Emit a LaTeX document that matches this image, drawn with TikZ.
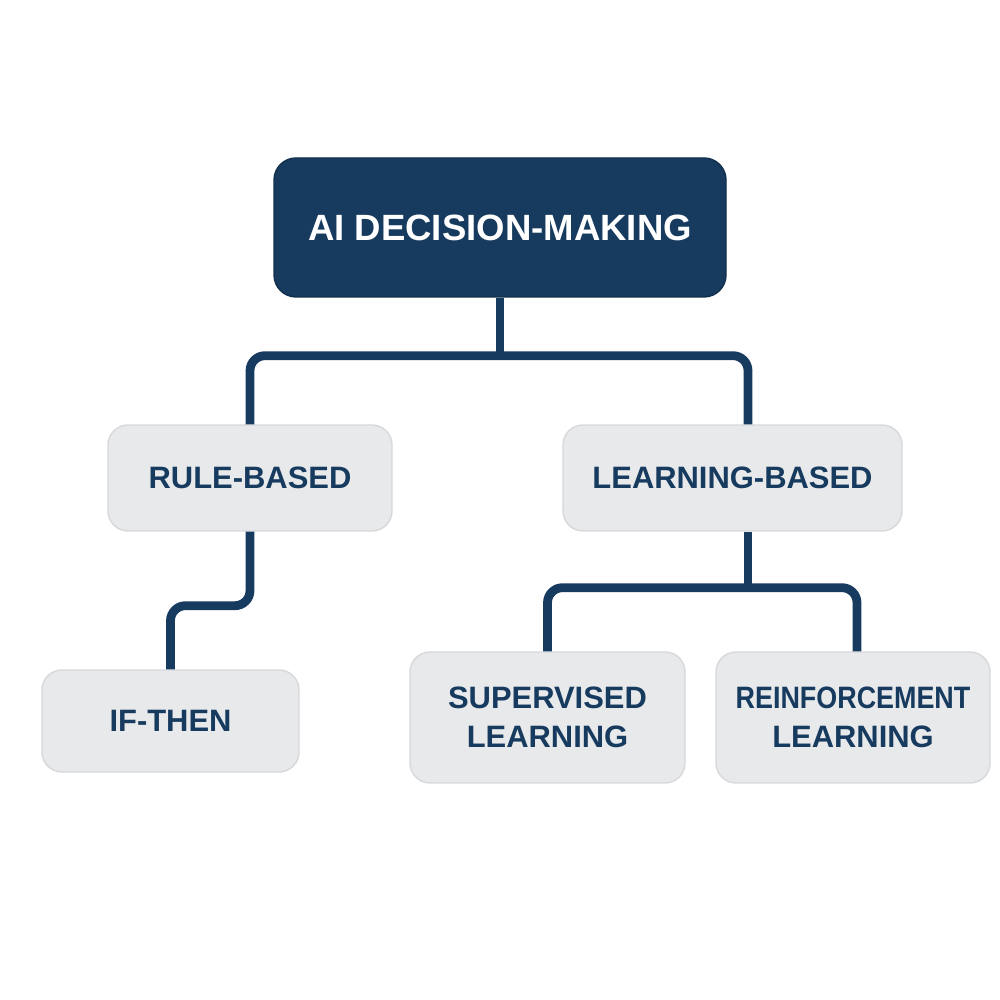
\documentclass[tikz,border=0pt]{standalone}
\usepackage{fontspec}
\setmainfont{Liberation Sans}
\usetikzlibrary{arrows.meta, positioning, calc}

\definecolor{navy}{HTML}{173B5F}
\definecolor{boxgray}{HTML}{E8E9EB}
\definecolor{boxline}{HTML}{D6D8DB}

\begin{document}
\begin{tikzpicture}
  % Styles
  \tikzset{
    topbox/.style={draw=navy!80!black,fill=navy,rounded corners=2.2mm,
      minimum width=4.52cm,minimum height=1.39cm,inner sep=0pt,
      text=white,font=\fontsize{10.4}{12}\selectfont\bfseries},
    catbox/.style={draw=boxline,fill=boxgray,rounded corners=2mm,
      inner sep=0pt,align=center,text=navy,
      font=\fontsize{8.8}{11.3}\selectfont\bfseries},
    link/.style={draw=navy,line width=2.5pt,rounded corners=1.5mm}
  }

  % Canvas
  \useasboundingbox (0,0) rectangle (10,10);

  % Boxes
  \node[topbox] (root) at (5.00,7.725) {AI DECISION-MAKING};
  \node[catbox,minimum width=2.84cm,minimum height=1.06cm] (rule) at (2.50,5.22) {RULE-BASED};
  \node[catbox,minimum width=3.39cm,minimum height=1.06cm] (learn) at (7.325,5.22) {LEARNING-BASED};
  \node[catbox,minimum width=2.57cm,minimum height=1.02cm] (ifthen) at (1.705,2.79) {IF-THEN};
  \node[catbox,minimum width=2.75cm,minimum height=1.31cm] (sup) at (5.475,2.825) {SUPERVISED\\LEARNING};
  \node[catbox,minimum width=2.74cm,minimum height=1.31cm] (reinf) at (8.53,2.825)
    {\scalebox{0.87}[1]{REINFORCEMENT}\\LEARNING};

  % Connectors from the root
  \draw[link] (root.south) -- ++(0,-0.58) coordinate (split1);
  \draw[link] (split1) -| (rule.north);
  \draw[link] (split1) -| ([xshift=1.55mm]learn.north);

  % Rule-based branch
  \draw[link] (rule.south) -- ++(0,-0.74) -| (ifthen.north);

  % Learning-based branch
  \draw[link] ([xshift=1.55mm]learn.south) -- ++(0,-0.56) coordinate (split2);
  \draw[link] (split2) -| (sup.north);
  \draw[link] (split2) -| ([xshift=0.4mm]reinf.north);
\end{tikzpicture}
\end{document}
